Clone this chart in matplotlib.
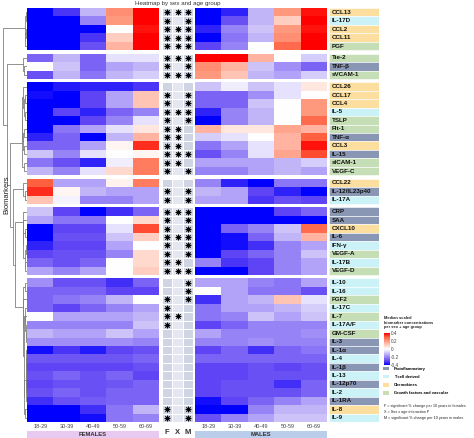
import numpy as np
import matplotlib
matplotlib.use("Agg")
import matplotlib.pyplot as plt
from matplotlib.colors import LinearSegmentedColormap, ListedColormap, Normalize
from matplotlib.cm import ScalarMappable
from matplotlib.patches import Patch

plt.rcParams['font.family'] = ['Liberation Sans', 'DejaVu Sans']

AGES = ["18-29", "30-39", "40-49", "50-59", "60-69"]

MARKERS = ["CCL13", "IL-17D", "CCL2", "CCL11", "PGF",
           "Tie-2", "TNF-β", "sVCAM-1",
           "CCL26", "CCL17", "CCL4", "IL-5", "TSLP", "Flt-1", "TNF-α", "CCL3",
           "IL-15", "sICAM-1", "VEGF-C",
           "CCL22", "IL-12/IL23p40", "IL-17A",
           "CRP", "SAA", "CXCL10", "IL-6", "IFN-γ", "VEGF-A", "IL-17B", "VEGF-D",
           "IL-10", "IL-16", "FGF2", "IL-17C", "IL-7", "IL-17A/F", "GM-CSF", "IL-3",
           "IL-1α", "IL-4", "IL-1β", "IL-13", "IL-12p70", "IL-2", "IL-1RA", "IL-8", "IL-9"]
GROUP_SIZES = [5, 3, 11, 3, 8, 17]

# P = proinflammatory, T = T-cell derived, C = chemokines, G = growth factors
CATEGORY = ["C", "T", "C", "C", "G",
            "G", "P", "G",
            "C", "C", "C", "T", "G", "G", "P", "C", "P", "G", "G",
            "C", "P", "T",
            "P", "P", "C", "P", "T", "G", "T", "G",
            "T", "T", "G", "T", "G", "T", "G", "P", "P", "T", "P", "T", "P", "T", "P", "C", "T"]

FEMALES = [
    [-0.40, -0.32, -0.12, 0.22, 0.40],
    [-0.40, -0.40, -0.20, 0.20, 0.40],
    [-0.40, -0.40, -0.40, 0.00, 0.38],
    [-0.40, -0.40, -0.32, 0.10, 0.40],
    [-0.40, -0.40, -0.28, 0.15, 0.40],
    [-0.25, -0.12, -0.25, -0.05, -0.05],
    [0.00, -0.10, -0.25, -0.15, -0.12],
    [-0.28, -0.12, -0.22, -0.12, -0.08],
    [-0.40, -0.36, -0.35, -0.35, -0.32],
    [-0.38, -0.40, -0.30, -0.15, 0.12],
    [-0.40, -0.40, -0.30, -0.15, 0.12],
    [-0.40, -0.30, -0.35, -0.25, -0.20],
    [-0.40, -0.40, -0.30, -0.20, -0.05],
    [-0.40, -0.22, -0.15, -0.05, 0.05],
    [-0.35, -0.25, -0.40, -0.12, 0.15],
    [-0.25, -0.25, -0.15, 0.02, 0.35],
    [-0.10, -0.20, -0.05, 0.00, 0.02],
    [-0.22, -0.28, -0.35, -0.03, 0.25],
    [-0.12, -0.20, -0.05, 0.08, 0.25],
    [0.30, -0.15, -0.15, 0.03, 0.25],
    [0.35, 0.02, -0.12, -0.15, -0.15],
    [0.12, -0.02, -0.20, -0.20, -0.15],
    [-0.10, -0.30, -0.40, -0.33, -0.25],
    [-0.15, -0.22, -0.22, 0.00, 0.08],
    [-0.40, -0.30, -0.30, -0.05, 0.32],
    [-0.40, -0.28, -0.28, -0.10, 0.10],
    [-0.35, -0.30, -0.30, -0.15, 0.00],
    [-0.30, -0.28, -0.28, -0.20, 0.08],
    [-0.25, -0.28, -0.25, 0.00, 0.08],
    [-0.15, -0.20, -0.15, 0.00, 0.10],
    [-0.18, -0.28, -0.28, -0.33, -0.25],
    [-0.25, -0.25, -0.25, -0.30, -0.30],
    [-0.25, -0.22, -0.20, -0.12, 0.00],
    [-0.25, -0.30, -0.25, -0.20, -0.15],
    [0.00, -0.15, -0.15, -0.15, -0.12],
    [-0.20, -0.20, -0.20, -0.20, -0.10],
    [-0.12, -0.15, -0.15, -0.10, -0.15],
    [-0.18, -0.18, -0.18, -0.18, -0.20],
    [-0.38, -0.32, -0.36, -0.30, -0.28],
    [-0.27, -0.27, -0.27, -0.27, -0.25],
    [-0.30, -0.30, -0.30, -0.30, -0.28],
    [-0.28, -0.25, -0.28, -0.25, -0.30],
    [-0.30, -0.28, -0.28, -0.27, -0.25],
    [-0.28, -0.25, -0.28, -0.25, -0.25],
    [-0.33, -0.28, -0.26, -0.25, -0.25],
    [-0.40, -0.40, -0.33, -0.22, -0.12],
    [-0.40, -0.40, -0.38, -0.22, -0.20],
]

MALES = [
    [-0.40, -0.35, -0.12, 0.20, 0.38],
    [-0.40, -0.28, -0.12, 0.10, 0.40],
    [-0.35, -0.20, -0.10, 0.20, 0.38],
    [-0.40, -0.22, -0.12, 0.22, 0.40],
    [-0.30, -0.20, 0.00, 0.28, 0.40],
    [0.40, 0.40, 0.15, 0.00, -0.08],
    [0.22, 0.15, -0.10, -0.18, -0.25],
    [0.20, 0.12, -0.12, -0.15, -0.08],
    [-0.10, -0.03, -0.10, -0.05, 0.05],
    [-0.25, -0.25, -0.18, -0.05, 0.00],
    [-0.25, -0.25, -0.10, 0.00, 0.20],
    [-0.35, -0.20, -0.12, 0.00, 0.20],
    [-0.40, -0.20, -0.12, 0.00, 0.28],
    [0.15, 0.05, 0.05, 0.18, 0.15],
    [-0.08, -0.05, 0.00, 0.15, 0.30],
    [-0.22, -0.15, -0.05, 0.15, 0.38],
    [-0.28, -0.20, -0.05, 0.18, 0.32],
    [-0.15, -0.15, -0.15, -0.12, -0.08],
    [-0.20, -0.20, -0.15, -0.12, -0.15],
    [-0.20, -0.35, -0.40, -0.22, -0.22],
    [-0.12, -0.15, -0.30, -0.35, -0.40],
    [-0.15, -0.15, -0.32, -0.28, -0.30],
    [-0.40, -0.40, -0.40, -0.30, -0.25],
    [-0.40, -0.40, -0.40, -0.40, -0.40],
    [-0.40, -0.25, -0.20, -0.10, 0.28],
    [-0.40, -0.38, -0.25, -0.12, 0.15],
    [-0.40, -0.38, -0.33, -0.20, -0.15],
    [-0.40, -0.30, -0.25, -0.20, -0.10],
    [-0.20, -0.32, -0.30, -0.20, -0.15],
    [-0.40, -0.40, -0.30, -0.20, -0.15],
    [-0.15, -0.15, -0.20, -0.22, -0.15],
    [0.00, -0.15, -0.22, -0.22, -0.28],
    [-0.33, -0.15, -0.12, 0.12, -0.05],
    [-0.22, -0.15, -0.15, -0.12, -0.08],
    [-0.22, -0.20, -0.10, -0.15, -0.10],
    [-0.30, -0.25, -0.20, -0.20, -0.20],
    [-0.15, -0.20, -0.20, -0.20, -0.18],
    [-0.20, -0.20, -0.18, -0.20, -0.20],
    [-0.30, -0.25, -0.33, -0.25, -0.22],
    [-0.25, -0.25, -0.25, -0.25, -0.25],
    [-0.30, -0.30, -0.28, -0.30, -0.28],
    [-0.30, -0.30, -0.28, -0.28, -0.28],
    [-0.30, -0.28, -0.28, -0.33, -0.25],
    [-0.30, -0.28, -0.28, -0.28, -0.25],
    [-0.38, -0.30, -0.25, -0.20, -0.15],
    [-0.40, -0.40, -0.20, -0.12, -0.12],
    [-0.28, -0.20, -0.15, -0.10, -0.10],
]

# significance flags: F (females), X (sex x age interaction), M (males)
SIG_F = [1, 1, 1, 1, 1, 1, 1, 1, 0, 1, 1, 1, 1, 1, 1, 1, 1, 1, 1, 0, 1, 1,
         1, 1, 1, 1, 1, 1, 1, 1, 0, 0, 1, 1, 1, 1, 0, 0, 0, 0, 0, 0, 0, 0, 0, 1, 1]
SIG_X = [1, 0, 1, 1, 1, 1, 0, 1, 0, 0, 0, 1, 0, 1, 1, 1, 1, 1, 0, 0, 0, 0,
         1, 0, 0, 1, 0, 0, 1, 1, 0, 0, 0, 0, 1, 0, 0, 0, 0, 0, 0, 0, 0, 0, 0, 0, 0]
SIG_M = [1, 1, 1, 1, 1, 1, 1, 1, 0, 1, 1, 1, 1, 0, 0, 0, 1, 0, 1, 0, 1, 1,
         1, 1, 1, 1, 1, 1, 0, 1, 1, 1, 1, 0, 0, 0, 0, 0, 0, 0, 0, 0, 0, 0, 0, 1, 1]

CAT_NAMES = {"P": "Proinflammatory", "T": "T-cell derived",
             "C": "Chemokines", "G": "Growth factors and vascular"}
CAT_COLORS = {"P": "#8A97B4", "T": "#CBF3F7", "C": "#FCDF9E", "G": "#C6DEB6"}

W, H = 474, 438
GAP = 0.4

cmap = LinearSegmentedColormap.from_list(
    "bwr_lab", [(0.0, "#0000FF"), (0.125, "#5E44F4"), (0.25, "#9682F6"),
                (0.375, "#CCC2F9"), (0.5, "#FFFFFF"), (0.625, "#FFCFC2"),
                (0.75, "#FF9A80"), (0.875, "#FF6040"), (1.0, "#FF0000")])
norm = Normalize(-0.4, 0.4)

n = len(MARKERS)
fem = np.array(FEMALES)
mal = np.array(MALES)
grp = np.repeat(np.arange(len(GROUP_SIZES)), GROUP_SIZES)
ypos = np.arange(n) + 0.5 + GAP * grp
starts = np.cumsum([0] + GROUP_SIZES)
ytop = n + GAP * (len(GROUP_SIZES) - 1)


def px_axes(x0, y0, x1, y1):
    return fig.add_axes([x0 / W, 1 - y1 / H, (x1 - x0) / W, (y1 - y0) / H])


fig = plt.figure(figsize=(W / 100, H / 100), dpi=100)

TOP, BOT = 8, 422


def heat(ax, data):
    for g in range(len(GROUP_SIZES)):
        s, e = starts[g], starts[g + 1]
        ax.pcolormesh(np.arange(6), np.arange(s, e + 1) + GAP * g, data[s:e],
                      cmap=cmap, norm=norm)
    ax.set_xlim(0, 5)
    ax.set_ylim(ytop, 0)
    ax.set_yticks([])
    ax.set_xticks(np.arange(5) + 0.5)
    ax.set_xticklabels(AGES, fontsize=4, color="#444444")
    ax.tick_params(axis="x", length=0, pad=1.2)
    for sp in ax.spines.values():
        sp.set_visible(False)


ax_f = px_axes(27, TOP, 159, BOT)
heat(ax_f, fem)
ax_m = px_axes(195, TOP, 327, BOT)
heat(ax_m, mal)

# significance columns
ax_s = px_axes(162, TOP, 193, BOT)
bg = ListedColormap(["#CFD5E2", "#E4E7EF"])
for g in range(len(GROUP_SIZES)):
    s, e = starts[g], starts[g + 1]
    ax_s.pcolormesh(np.arange(4), np.arange(s, e + 1) + GAP * g,
                    np.tile([0, 1, 0], (e - s, 1)), cmap=bg, vmin=0, vmax=1,
                    edgecolors="white", linewidth=0.6)
for c, sig in enumerate([SIG_F, SIG_X, SIG_M]):
    sig = np.array(sig, dtype=bool)
    ax_s.scatter(np.full(sig.sum(), c + 0.5), ypos[sig], marker=(8, 2, 0),
                 s=13, linewidths=0.6, color="black", zorder=3)
ax_s.set_xlim(0, 3)
ax_s.set_ylim(ytop, 0)
ax_s.set_yticks([])
ax_s.set_xticks([0.5, 1.5, 2.5])
ax_s.set_xticklabels(["F", "X", "M"], fontsize=5.5, fontweight="bold", color="#333333")
ax_s.tick_params(axis="x", length=0, pad=5)
for sp in ax_s.spines.values():
    sp.set_visible(False)

# labels with category boxes
ax_l = px_axes(329, TOP, 379, BOT)
ax_l.barh(ypos, 1, height=1, left=0, color=[CAT_COLORS[c] for c in CATEGORY],
          edgecolor="white", linewidth=0.4)
for y, name in zip(ypos, MARKERS):
    ax_l.text(0.05, y, name, fontsize=4.5, fontweight="bold", va="center", ha="left",
              color="#111111")
ax_l.set_xlim(0, 1)
ax_l.set_ylim(ytop, 0)
ax_l.axis("off")

# dendrogram: contiguous average linkage, within groups first
vec = np.hstack([fem, mal])
clusters = [dict(rows=[i], y=ypos[i], h=0.0, grp=grp[i]) for i in range(n)]
links = []
while len(clusters) > 1:
    best = None
    for k in range(len(clusters) - 1):
        a, b = clusters[k], clusters[k + 1]
        same = a["grp"] is not None and a["grp"] == b["grp"]
        d = np.mean([np.linalg.norm(vec[i] - vec[j]) for i in a["rows"] for j in b["rows"]])
        key = (0 if same else 1, d)
        if best is None or key < best[0]:
            best = (key, k, d, same)
    _, k, d, same = best
    a, b = clusters[k], clusters[k + 1]
    if same:
        h = max(d, a["h"], b["h"]) + 0.02
    else:
        h = max(a["h"], b["h"], 1.4) + 0.5 * d
    links.append((a["h"], a["y"], b["h"], b["y"], h))
    clusters[k:k + 2] = [dict(rows=a["rows"] + b["rows"], y=(a["y"] + b["y"]) / 2,
                              h=h, grp=a["grp"] if same else None)]

ax_d = px_axes(3, TOP, 27, BOT)
for ha, ya, hb, yb, h in links:
    ax_d.plot([ha, h, h, hb], [ya, ya, yb, yb], color="#808080", lw=0.6)
ax_d.set_xlim(clusters[0]["h"] * 1.02, 0)
ax_d.set_ylim(ytop, 0)
ax_d.axis("off")

# sex bands under the heatmaps
for x0, x1, txt, col in [(27, 159, "FEMALES", "#E8C9F1"), (195, 327, "MALES", "#BACDEA")]:
    ab = px_axes(x0, 431, x1, 438)
    ab.set_facecolor(col)
    ab.set_xticks([])
    ab.set_yticks([])
    for sp in ab.spines.values():
        sp.set_visible(False)
    ab.text(0.5, 0.5, txt, transform=ab.transAxes, ha="center", va="center",
            fontsize=4.2, fontweight="bold", color="#333333")

fig.text(177.5 / W, 1 - 3.5 / H, "Heatmap by sex and age group", ha="center",
         va="center", fontsize=4.4, color="#333333")
fig.text(7 / W, 1 - 195 / H, "Biomarkers", rotation=90, ha="center", va="center",
         fontsize=5.5, color="#222222")

# legend
fig.text(384 / W, 1 - 316 / H, "Median scaled\nbiomarker concentrations\nper sex + age group",
         ha="left", va="top", fontsize=2.9, fontweight="bold", linespacing=1.2,
         color="#222222")
cax = px_axes(384, 333, 390, 365)
cb = fig.colorbar(ScalarMappable(norm=norm, cmap=cmap), cax=cax,
                  ticks=[-0.4, -0.2, 0, 0.2, 0.4])
cb.ax.set_yticklabels(["-0.4", "-0.2", "0", "0.2", "0.4"])
cb.ax.tick_params(labelsize=3.4, length=0, pad=0.8, labelcolor="#444444")
cb.outline.set_visible(False)

handles = [Patch(facecolor=CAT_COLORS[k], label=CAT_NAMES[k]) for k in ["P", "T", "C", "G"]]
fig.legend(handles=handles, loc="upper left", bbox_to_anchor=(383 / W, 1 - 366.5 / H),
           frameon=False, prop=dict(size=2.9, weight="bold"), handlelength=1.5,
           handleheight=1.1, labelspacing=0.95, handletextpad=1.2, borderaxespad=0,
           borderpad=0)

notes = ["F = significant % change per 10 years in females",
         "X = Sex x age interaction P",
         "M = significant % change per 10 years in males"]
for i, t in enumerate(notes):
    fig.text(384 / W, 1 - (406 + 6 * i) / H, t, ha="left", va="center",
             fontsize=2.7, color="#222222")

fig.savefig("out.png", dpi=100)
